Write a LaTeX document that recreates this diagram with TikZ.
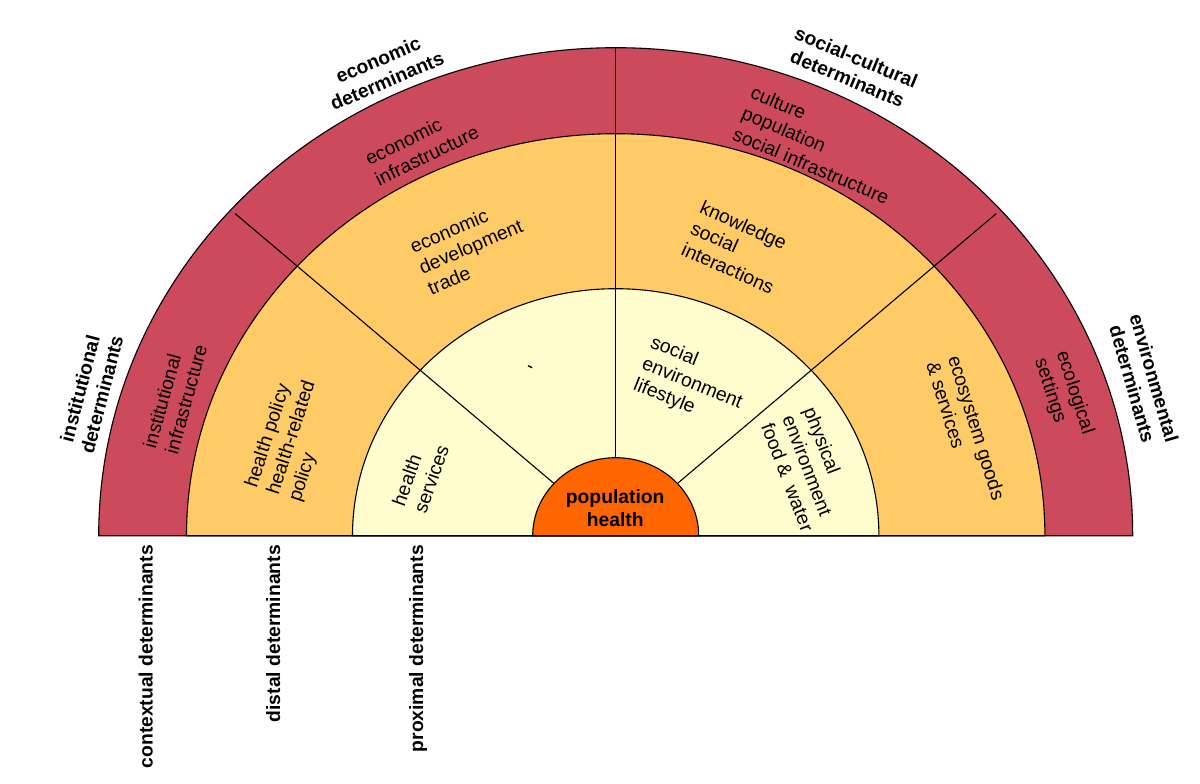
\documentclass[tikz,border=0pt]{standalone}
\usepackage{fontspec}
\setmainfont{Liberation Sans}
\definecolor{ringred}{HTML}{CD4A5C}
\definecolor{ringorange}{HTML}{FECB67}
\definecolor{ringyellow}{HTML}{FFFDCD}
\definecolor{coreorange}{HTML}{FF6600}
\begin{document}
\begin{tikzpicture}[x=1pt,y=-1pt,
  lbl/.style={font=\fontsize{19.3}{22.8}\selectfont, inner sep=0pt, align=left},
  blbl/.style={font=\fontsize{19.3}{22.8}\selectfont\bfseries, inner sep=0pt, align=center},
  ring/.style={draw=black, line width=1.1pt},
  divider/.style={draw=black, line width=1.1pt}]
\useasboundingbox (0,0) rectangle (1200,784);
% rings
\path[ring, fill=ringred] (1132.7,535.7) arc[start angle=0,end angle=-180,x radius=517,y radius=488] -- cycle;
\path[ring, fill=ringorange] (1044.9,535.7) arc[start angle=0,end angle=-180,x radius=429.2,y radius=402] -- cycle;
\path[ring, fill=ringyellow] (878.9,535.7) arc[start angle=0,end angle=-180,x radius=263.2,y radius=247] -- cycle;
% divider end points
\coordinate (L1) at ({615.7+512*cos(138)},{535.7-0.94*512*sin(138)});
\coordinate (L0) at ({615.7+83*cos(138)},{535.7-78*sin(138)});
\coordinate (R1) at ({615.7+512*cos(42)},{535.7-0.94*512*sin(42)});
\coordinate (R0) at ({615.7+83*cos(42)},{535.7-78*sin(42)});
\coordinate (V1) at (615.7,47.7);
\coordinate (V0) at (615.7,457.7);
\draw[divider] (L0) -- (L1);
\draw[divider] (R0) -- (R1);
\draw[divider] (V0) -- (V1);
% core
\path[ring, fill=coreorange] (698.7,535.7) arc[start angle=0,end angle=-180,x radius=83,y radius=78] -- cycle;
\node[blbl] (core) at (615.2,508) {population\\health};
% outer labels
\node[blbl, rotate=23] (econdet) at (382.6,70.3) {economic\\determinants};
\node[blbl, rotate=-22.5] (socdet) at (851.9,68) {social-cultural\\determinants};
\node[blbl, rotate=75.5] (instdet) at (90.8,391.7) {institutional\\determinants};
\node[blbl, rotate=-74] (envdet) at (1143.3,381) {environmental\\determinants};
% bottom labels
\node[blbl, rotate=90, anchor=base east] (ctx) at (152.7,545) {contextual determinants};
\node[blbl, rotate=90, anchor=base east] (dist) at (280,545) {distal determinants};
\node[blbl, rotate=90, anchor=base east] (prox) at (423,545) {proximal determinants};
% red ring
\node[lbl, rotate=26] (econinf) at (421.9,145.2) {economic\\infrastructure};
\node[lbl, rotate=-23] (culture) at (820.1,144.7) {culture\\population\\social infrastructure};
\node[lbl, rotate=74.6] (instinf) at (175,396.3) {institutional\\infrastructure};
\node[lbl, rotate=-72] (ecoset) at (1063.7,396.3) {ecological\\settings};
% orange ring
\node[lbl, rotate=23] (econdev) at (470.7,246.3) {economic\\development\\trade};
\node[lbl, rotate=-24] (knowledge) at (737.3,247.3) {knowledge\\social\\interactions};
\node[lbl, rotate=72] (hpolicy) at (291.9,438) {health policy\\health-related\\policy};
\node[lbl, rotate=-72.6] (ecosys) at (966,431) {ecosystem goods\\\& services};
% yellow ring
\node[lbl, rotate=70.5] (hserv) at (420.4,475.3) {health\\services};
\node[lbl, rotate=-25] (dash) at (529.3,369.3) {-};
\node[lbl, rotate=-22] (socenv) at (692,383.7) {social\\environment\\lifestyle};
\node[lbl, rotate=-69] (physenv) at (809,469.3) {physical\\environment\\food \& \ water};
\end{tikzpicture}
\end{document}
